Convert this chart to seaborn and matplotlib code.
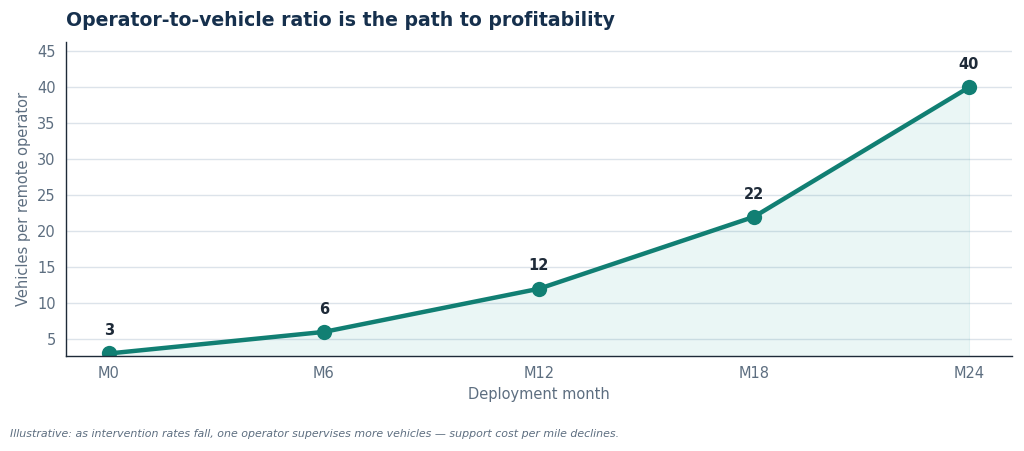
import pandas as pd
import numpy as np
import matplotlib
import seaborn as sns
matplotlib.use('Agg')
import matplotlib.pyplot as plt

months = ['M0', 'M6', 'M12', 'M18', 'M24']
vehicles = [3, 6, 12, 22, 40]

df = pd.DataFrame({'month': months, 'vehicles': vehicles})
df['pos'] = np.arange(len(df))

sns.set_style('white')
plt.rcParams['font.family'] = ['DejaVu Sans']

teal = '#117f73'
ink = '#16304d'
grey = '#5d6e80'

fig = plt.figure(figsize=(10.24, 4.51), dpi=100)
ax = fig.add_axes([66 / 1024, 1 - 356 / 451, 946 / 1024, 314 / 451])

ax.fill_between(df['pos'], df['vehicles'], 0, color='#1a9e98', alpha=0.09, lw=0.8,
                edgecolor='#1a9e98')
sns.lineplot(data=df, x='pos', y='vehicles', ax=ax, color=teal, lw=3.2,
             marker='o', markersize=11, markeredgewidth=0)

for x, y in zip(df['pos'], df['vehicles']):
    ax.annotate(str(y), (x, y), xytext=(0, 11), textcoords='offset points',
                ha='center', va='bottom', fontsize=10.5, fontweight='bold', color='#1e2a38')

ax.set_xticks(df['pos'])
ax.set_xticklabels(months)
ax.set_xlim(-0.2, 4.2)
ax.set_ylim(2.65, 46.3)
ax.set_yticks(range(5, 46, 5))
ax.grid(axis='y', color='#dce3ea', lw=1)
ax.set_axisbelow(True)
for s in ['top', 'right']:
    ax.spines[s].set_visible(False)
for s in ['left', 'bottom']:
    ax.spines[s].set_color('#1e2a38')
    ax.spines[s].set_linewidth(1)
ax.tick_params(axis='both', colors=grey, labelsize=10.5, length=4, width=0.8)
ax.tick_params(axis='both', color='#1e2a38')
ax.set_xlabel('Deployment month', color=grey, fontsize=10.5)
ax.set_ylabel('Vehicles per remote operator', color=grey, fontsize=10.5)

fig.text(66 / 1024, 1 - 20 / 451, 'Operator-to-vehicle ratio is the path to profitability',
         ha='left', va='center', fontsize=13.6, fontweight='bold', color=ink)
fig.text(10 / 1024, 1 - 434 / 451,
         'Illustrative: as intervention rates fall, one operator supervises more vehicles \u2014 support cost per mile declines.',
         ha='left', va='center', fontsize=7.9, style='italic', color=grey)

plt.savefig('out.png', dpi=100)
